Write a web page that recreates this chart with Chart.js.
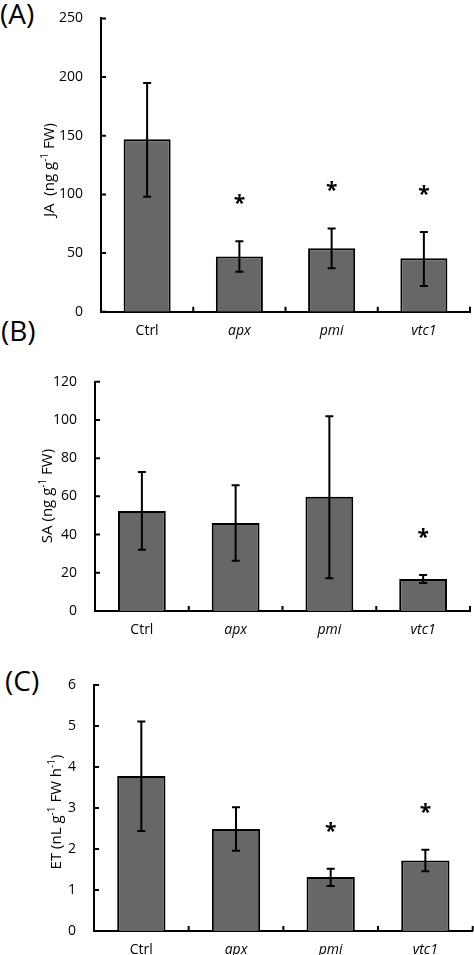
<!DOCTYPE html>
<html>
<head>
<meta charset="utf-8">
<script src="https://cdn.jsdelivr.net/npm/chart.js@4.4.1/dist/chart.umd.min.js"></script>
<style>
  html, body { margin: 0; padding: 0; background: #fff; }
  body { width: 474px; height: 955px; position: relative; overflow: hidden; font-family: "Open Sans", sans-serif; }
  .panel { position: absolute; left: 0; width: 474px; }
  .tag { position: absolute; font-size: 28px; line-height: 1; color: #000; }
</style>
</head>
<body>
<div class="tag" style="left:0px;top:-1px">(A)</div>
<div class="tag" style="left:1px;top:316px">(B)</div>
<div class="tag" style="left:5px;top:666px">(C)</div>

<div class="panel" style="top:0px;height:345px"><canvas id="chartA"></canvas></div>
<div class="panel" style="top:360px;height:285px"><canvas id="chartB"></canvas></div>
<div class="panel" style="top:665px;height:290px"><canvas id="chartC"></canvas></div>

<script>
// ---------------------------------------------------------------------------
// data
// ---------------------------------------------------------------------------
const categories = ["Ctrl", "apx", "pmi", "vtc1"];

// (A) JA
const jaMean = [147, 47, 54, 45.5];
const jaLow = [98, 34, 37, 22];
const jaHigh = [195, 60, 71, 68];
const jaSig = [false, true, true, true];
const jaTicks = { max: 250, step: 50 };

// (B) SA
const saMean = [52.3, 46, 59.8, 16.7];
const saLow = [32, 26.3, 17.1, 14.7];
const saHigh = [72.7, 65.8, 101.9, 18.8];
const saSig = [false, false, false, true];
const saTicks = { max: 120, step: 20 };

// (C) ET
const etMean = [3.78, 2.49, 1.32, 1.72];
const etLow = [2.44, 1.96, 1.10, 1.46];
const etHigh = [5.11, 3.02, 1.52, 1.98];
const etSig = [false, false, true, true];
const etTicks = { max: 6, step: 1 };

const FONT = '"Open Sans", sans-serif';

// ---------------------------------------------------------------------------
// error bars, asterisks, inside tick marks, y title with superscripts
// ---------------------------------------------------------------------------
const extras = {
    id: "extras",
    afterDatasetsDraw(chart, args, opts) {
        const ctx = chart.ctx;
        const xs = chart.scales.x;
        const ys = chart.scales.y;
        const area = chart.chartArea;
        ctx.save();
        ctx.strokeStyle = "#000";
        ctx.fillStyle = "#000";
        ctx.lineWidth = 2;

        // error bars
        opts.low.forEach((lo, i) => {
            const x = xs.getPixelForValue(i);
            const y1 = ys.getPixelForValue(lo);
            const y2 = ys.getPixelForValue(opts.high[i]);
            ctx.beginPath();
            ctx.moveTo(x, y1); ctx.lineTo(x, y2);
            ctx.moveTo(x - 4, y1); ctx.lineTo(x + 4, y1);
            ctx.moveTo(x - 4, y2); ctx.lineTo(x + 4, y2);
            ctx.stroke();
        });

        // significance stars
        ctx.font = "bold 21px " + FONT;
        ctx.textAlign = "center";
        ctx.textBaseline = "alphabetic";
        opts.sig.forEach((s, i) => {
            if (!s) return;
            const x = xs.getPixelForValue(i);
            const y = ys.getPixelForValue(opts.high[i]) - 35;
            ctx.fillText("*", x, y + 4);
        });

        // tick marks (inside)
        ctx.beginPath();
        ys.ticks.forEach((t, i) => {
            const y = ys.getPixelForTick(i);
            ctx.moveTo(area.left, y); ctx.lineTo(area.left + 5, y);
        });
        const step = (area.right - area.left) / categories.length;
        for (let i = 1; i <= categories.length; i++) {
            const x = area.left + i * step;
            ctx.moveTo(x, area.bottom); ctx.lineTo(x, area.bottom - 5);
        }
        ctx.stroke();

        // y title
        const parts = opts.title;
        const base = "15px " + FONT;
        const small = "10px " + FONT;
        let total = 0;
        parts.forEach(p => {
            ctx.font = p.sup ? small : base;
            total += ctx.measureText(p.t).width;
        });
        ctx.translate(opts.titleX, opts.titleY);
        ctx.rotate(-Math.PI / 2);
        ctx.textAlign = "left";
        ctx.textBaseline = "middle";
        let cx = -total / 2;
        parts.forEach(p => {
            ctx.font = p.sup ? small : base;
            ctx.fillText(p.t, cx, p.sup ? -5 : 0);
            cx += ctx.measureText(p.t).width;
        });
        ctx.restore();
    }
};

// ---------------------------------------------------------------------------
// chart builder
// ---------------------------------------------------------------------------
const makeChart = (id, cfg) => {
    const el = document.getElementById(id);
    return new Chart(el, {
        type: "bar",
        data: {
            labels: categories,
            datasets: [{
                data: cfg.mean,
                backgroundColor: "#676767",
                borderColor: "#000",
                borderWidth: 2,
                barPercentage: 0.51,
                categoryPercentage: 1,
            }],
        },
        options: {
            responsive: true,
            maintainAspectRatio: false,
            animation: false,
            events: [],
            layout: { padding: { top: cfg.padTop, right: cfg.padRight, left: 0, bottom: 0 } },
            plugins: {
                legend: { display: false },
                tooltip: { enabled: false },
                extras: {
                    low: cfg.low,
                    high: cfg.high,
                    sig: cfg.sig,
                    title: cfg.title,
                    titleX: cfg.titleX,
                    titleY: cfg.titleY,
                },
            },
            scales: {
                x: {
                    grid: { display: false },
                    border: { display: true, color: "#000", width: 2 },
                    ticks: {
                        color: "#000",
                        padding: 3,
                        maxRotation: 0,
                        font: (c) => ({ family: FONT, size: 14, style: c.index === 0 ? "normal" : "italic" }),
                    },
                    afterFit: (s) => { s.height = cfg.xHeight; },
                },
                y: {
                    min: 0,
                    max: cfg.ticks.max,
                    grid: { display: false },
                    border: { display: true, color: "#000", width: 2 },
                    ticks: {
                        stepSize: cfg.ticks.step,
                        color: "#000",
                        padding: 10,
                        font: { family: FONT, size: 14 },
                    },
                    afterFit: (s) => { s.width = cfg.yWidth; },
                },
            },
        },
        plugins: [extras],
    });
};

makeChart("chartA", {
    mean: jaMean, low: jaLow, high: jaHigh, sig: jaSig, ticks: jaTicks,
    padTop: 12.7, padRight: 4, xHeight: 33.3, yWidth: 101,
    title: [{ t: "JA  (ng g" }, { t: "-1", sup: true }, { t: " FW)" }],
    titleX: 50, titleY: 170,
});

makeChart("chartB", {
    mean: saMean, low: saLow, high: saHigh, sig: saSig, ticks: saTicks,
    padTop: 21.7, padRight: 4, xHeight: 34, yWidth: 95,
    title: [{ t: "SA (ng g" }, { t: "-1", sup: true }, { t: " FW)" }],
    titleX: 48, titleY: 136,
});

makeChart("chartC", {
    mean: etMean, low: etLow, high: etHigh, sig: etSig, ticks: etTicks,
    padTop: 20, padRight: 1.3, xHeight: 24, yWidth: 94,
    title: [{ t: "ET (nL g" }, { t: "-1", sup: true }, { t: " FW h" }, { t: "-1", sup: true }, { t: ")" }],
    titleX: 57, titleY: 147,
});
</script>
</body>
</html>
